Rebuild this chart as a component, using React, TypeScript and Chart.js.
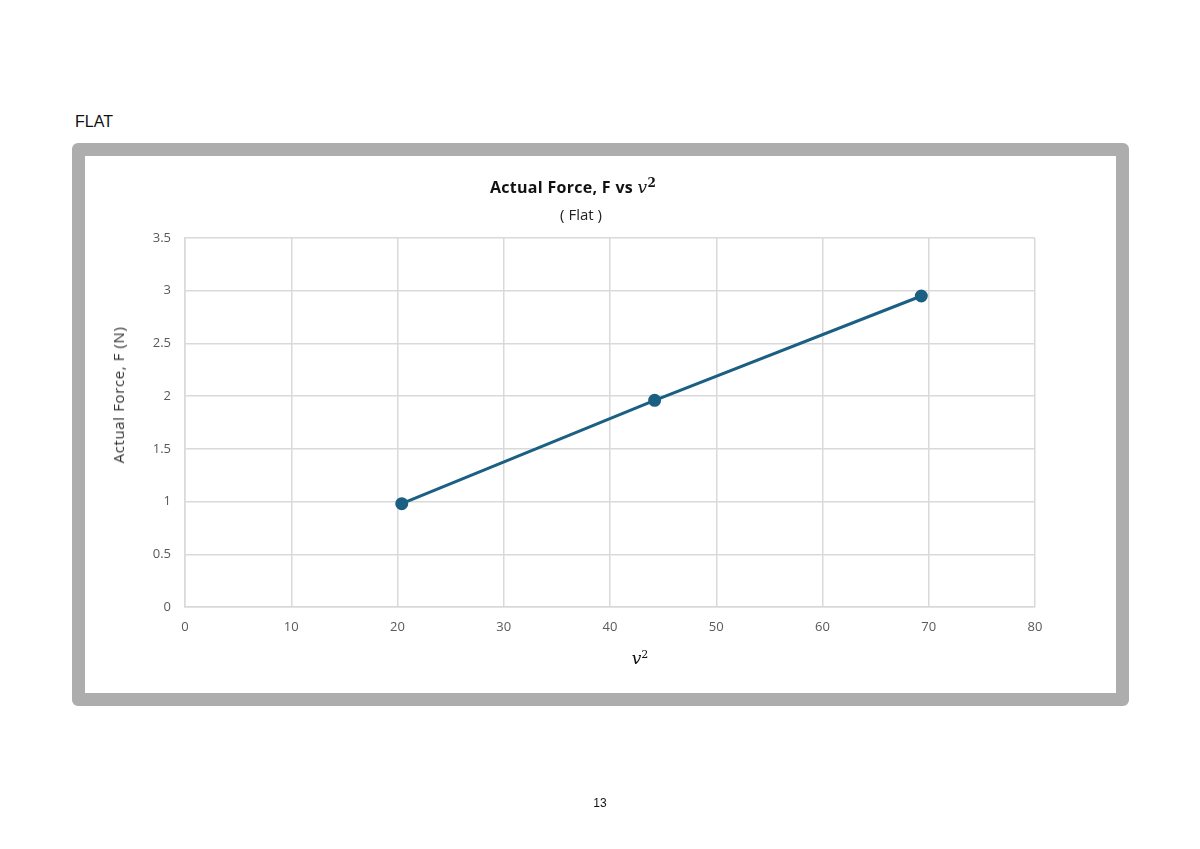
import { useEffect, useRef } from "react";
import Chart from "chart.js/auto";

// v² values and measured actual force (N)
const vSquared = [20.4, 44.2, 69.3];
const actualForce = [0.98, 1.96, 2.95];

const xTicks = { min: 0, max: 80, step: 10 };
const yTicks = { min: 0, max: 3.5, step: 0.5 };

const lineColor = "#1b5f82";
const gridColor = "#d9d9d9";
const tickColor = "#595959";

export default function App() {
    const chartRef = useRef<HTMLCanvasElement>(null);
    const chartInstanceRef = useRef<Chart | null>(null);

    useEffect(() => {
        const ctx = chartRef.current?.getContext("2d");
        if (!ctx) return;
        chartInstanceRef.current = new Chart(ctx, {
            type: "scatter",
            data: {
                datasets: [
                    {
                        label: "Actual Force",
                        data: vSquared.map((x, i) => ({ x, y: actualForce[i] })),
                        showLine: true,
                        borderColor: lineColor,
                        backgroundColor: lineColor,
                        borderWidth: 3,
                        pointRadius: 5,
                        pointHoverRadius: 5,
                    },
                ],
            },
            options: {
                animation: false,
                responsive: false,
                maintainAspectRatio: false,
                layout: {
                    padding: { top: 82, right: 81, left: 0, bottom: 0 },
                },
                scales: {
                    x: {
                        type: "linear",
                        min: xTicks.min,
                        max: xTicks.max,
                        afterFit: (scale) => {
                            scale.height = 86;
                        },
                        grid: { color: gridColor, lineWidth: 1.5, drawTicks: false },
                        border: { color: gridColor, width: 1.5 },
                        ticks: {
                            stepSize: xTicks.step,
                            color: tickColor,
                            padding: 12,
                            font: { family: "'Open Sans', sans-serif", size: 13 },
                        },
                    },
                    y: {
                        type: "linear",
                        min: yTicks.min,
                        max: yTicks.max,
                        afterFit: (scale) => {
                            scale.width = 100;
                        },
                        grid: { color: gridColor, lineWidth: 1.5, drawTicks: false },
                        border: { color: gridColor, width: 1.5 },
                        ticks: {
                            stepSize: yTicks.step,
                            color: tickColor,
                            padding: 14,
                            font: { family: "'Open Sans', sans-serif", size: 13 },
                            callback: (value) => String(Number(value)),
                        },
                    },
                },
                plugins: {
                    legend: { display: false },
                    tooltip: { enabled: false },
                },
            },
        });
        return () => {
            if (chartInstanceRef.current) {
                chartInstanceRef.current.destroy();
                chartInstanceRef.current = null;
            }
        };
    }, []);

    return (
        <div style={{ position: "absolute", left: 0, top: 0, width: 1200, height: 849, background: "#fff", fontFamily: "'Liberation Sans', Arial, sans-serif" }}>
            <div style={{ position: "absolute", left: 75, top: 113, fontSize: 16, color: "#111" }}>FLAT</div>
            <div
                style={{
                    position: "absolute",
                    left: 72,
                    top: 143,
                    width: 1057,
                    height: 563,
                    boxSizing: "border-box",
                    border: "13px solid #adadad",
                    borderRadius: 6,
                }}
            />
            <canvas
                ref={chartRef}
                width={1031}
                height={537}
                style={{ position: "absolute", left: 85, top: 156, width: 1031, height: 537 }}
            />
            <div
                style={{
                    position: "absolute",
                    left: 573,
                    top: 176,
                    transform: "translateX(-50%)",
                    whiteSpace: "nowrap",
                    fontFamily: "'Open Sans', sans-serif",
                    fontWeight: 700,
                    fontSize: 16,
                    letterSpacing: 0.3,
                    color: "#111",
                    lineHeight: "22px",
                }}
            >
                Actual Force, F vs{" "}
                <span style={{ fontFamily: "'DejaVu Serif', serif", fontStyle: "italic", fontWeight: 400, fontSize: 17 }}>v</span>
                <sup style={{ fontFamily: "'DejaVu Serif', serif", fontSize: 12, lineHeight: 0 }}>2</sup>
            </div>
            <div
                style={{
                    position: "absolute",
                    left: 581,
                    top: 204,
                    transform: "translateX(-50%)",
                    whiteSpace: "nowrap",
                    fontFamily: "'Open Sans', sans-serif",
                    fontSize: 15,
                    color: "#222",
                    lineHeight: "20px",
                }}
            >
                ( Flat )
            </div>
            <div
                style={{
                    position: "absolute",
                    left: 118,
                    top: 395,
                    transform: "translate(-50%, -50%) rotate(-90deg)",
                    whiteSpace: "nowrap",
                    fontFamily: "'Open Sans', sans-serif",
                    fontSize: 15,
                    letterSpacing: 0.6,
                    color: "#333",
                    lineHeight: "20px",
                }}
            >
                Actual Force, F (N)
            </div>
            <div
                style={{
                    position: "absolute",
                    left: 640,
                    top: 646,
                    transform: "translateX(-50%)",
                    whiteSpace: "nowrap",
                    color: "#111",
                    lineHeight: "24px",
                }}
            >
                <span style={{ fontFamily: "'DejaVu Serif', serif", fontStyle: "italic", fontSize: 17 }}>v</span>
                <sup style={{ fontFamily: "'DejaVu Serif', serif", fontSize: 11, lineHeight: 0 }}>2</sup>
            </div>
            <div
                style={{
                    position: "absolute",
                    left: 600,
                    top: 796,
                    transform: "translateX(-50%)",
                    fontSize: 12,
                    color: "#111",
                }}
            >
                13
            </div>
        </div>
    );
}
